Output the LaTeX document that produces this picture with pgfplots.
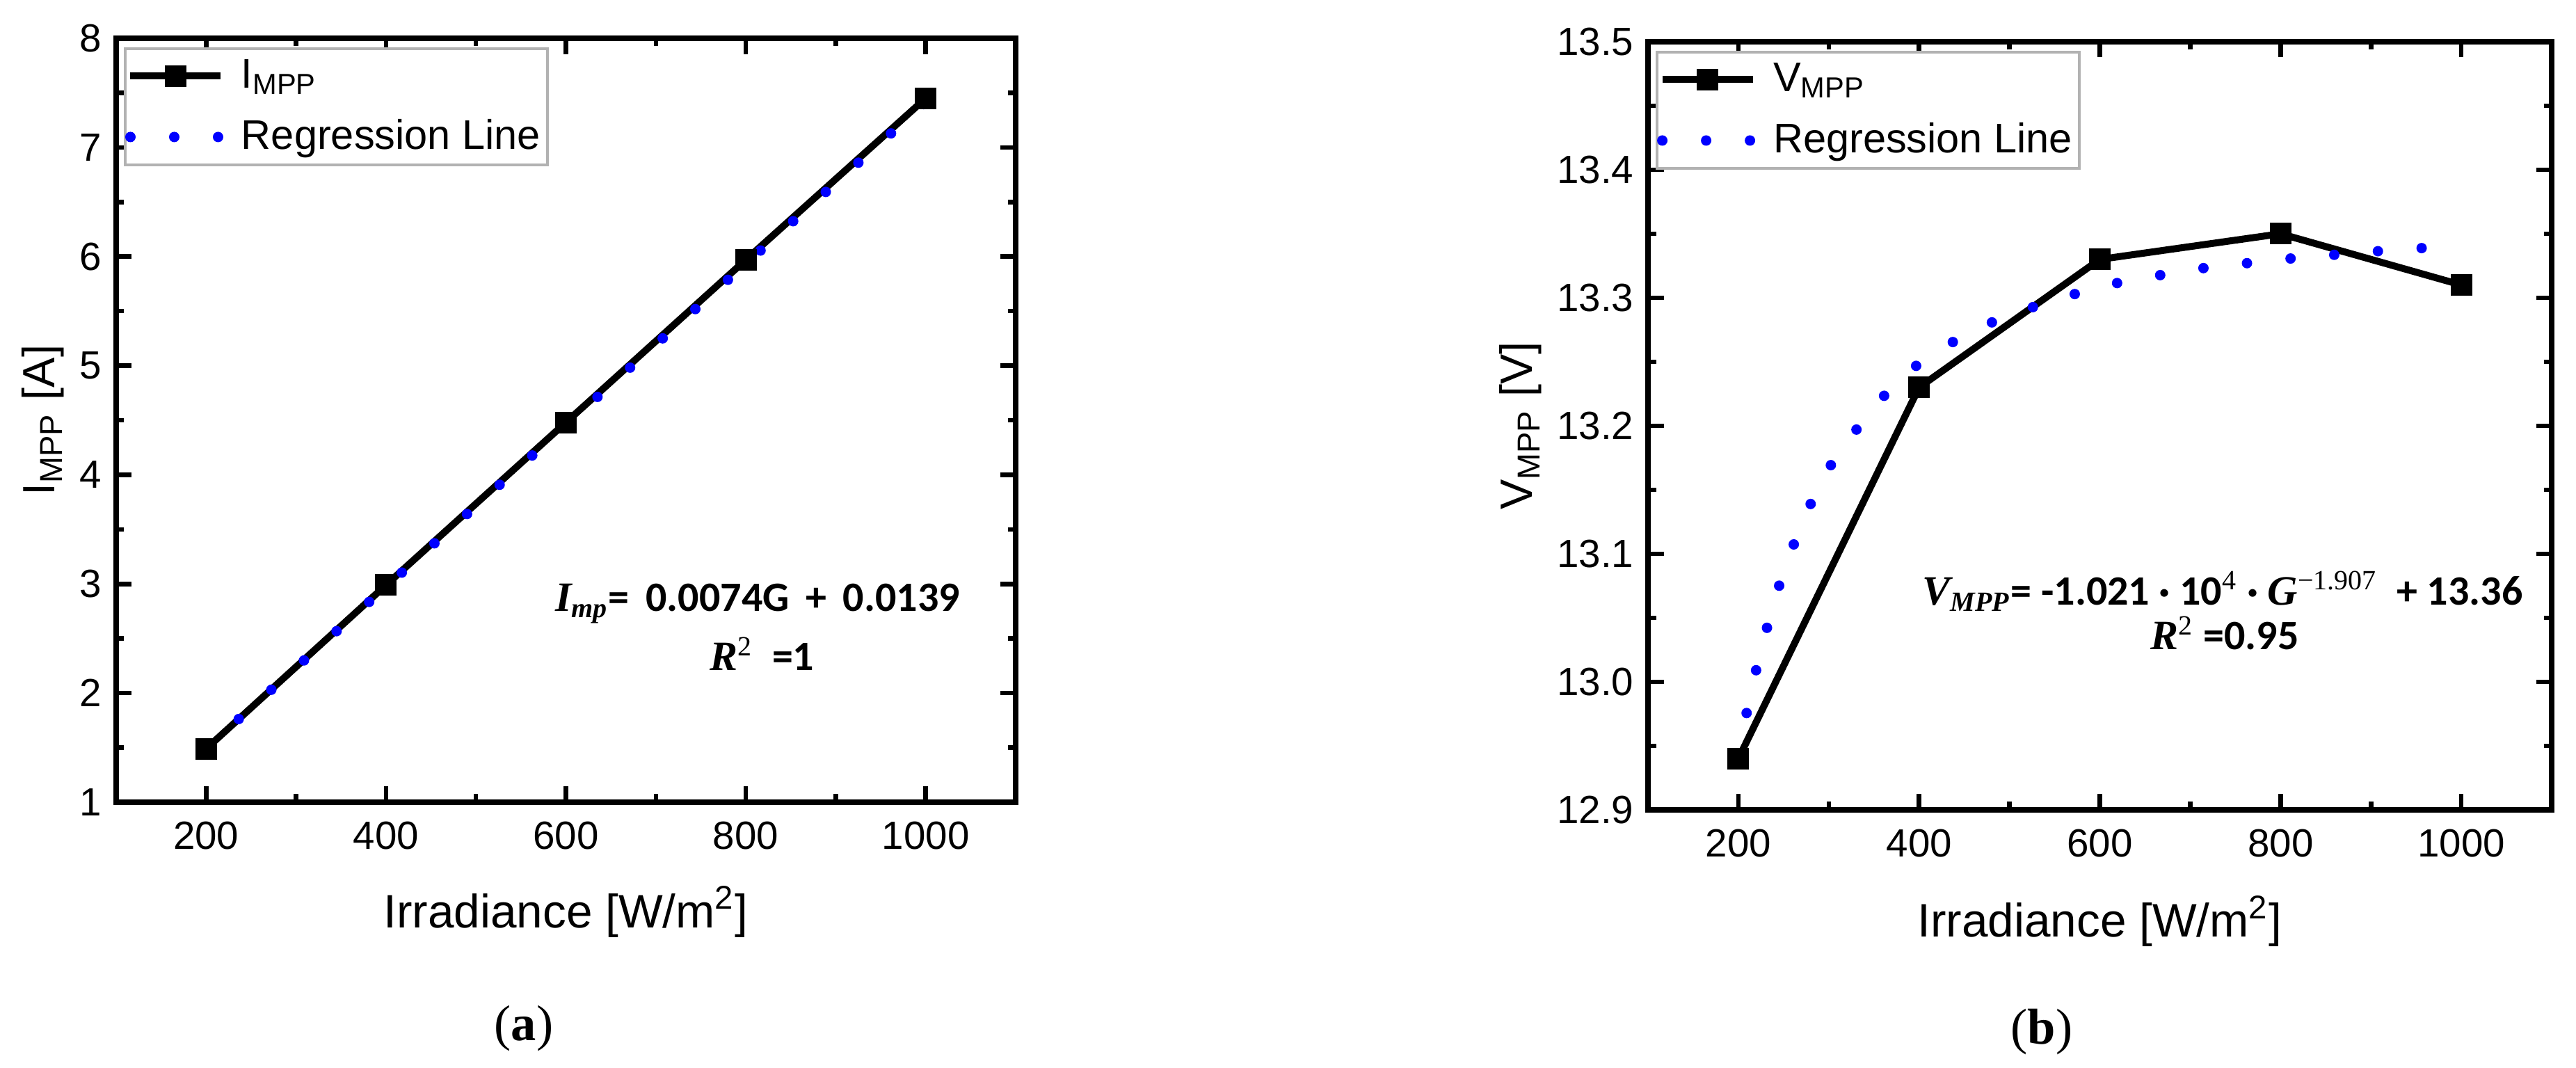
\documentclass[border=0pt]{standalone}
\usepackage{fontspec}
\setmainfont{Liberation Sans}
\newfontfamily\serif{Liberation Serif}
\newfontfamily\calibri{Carlito}
\usepackage{pgfplots}
\pgfplotsset{compat=1.18}
\definecolor{regblue}{RGB}{0,0,255}
\pgfplotsset{
  myax/.style={
    scale only axis,
    axis line style={line width=1.6pt},
    every tick/.style={black, line width=1.3pt},
    major tick length=4.5pt, minor tick length=2.3pt,
    tick align=inside,
    xmin=100, xmax=1100,
    xtick={200,400,600,800,1000},
    minor x tick num=1,
    minor y tick num=1,
    tick label style={font=\fontsize{11.3}{13}\selectfont},
    /pgf/number format/assume math mode=true,
    xticklabel style={yshift=-2pt, /pgf/number format/1000 sep={}},
    yticklabel style={xshift=-0.6pt},
    xlabel style={font=\fontsize{13.5}{15}\selectfont},
    ylabel style={font=\fontsize{13}{15}\selectfont},
    xlabel={Irradiance [W/m\textsuperscript{2}]},
    legend cell align=left,
    legend image code/.code={\draw[mark repeat=2,mark phase=2] plot coordinates {(1pt,0pt)(14pt,0pt)(27pt,0pt)};},
    legend style={anchor=north west, draw=gray!60, line width=0.8pt,
      font=\fontsize{11.9}{14}\selectfont, inner xsep=0pt, inner ysep=1pt,
      nodes={inner xsep=2pt, inner ysep=2pt},
      column sep=2.4pt, row sep=3.6pt},
    clip=false,
  },
  dataline/.style={black, line width=2pt, mark=square*, mark size=2.1pt, mark options={solid}},
  regline/.style={regblue, line width=3pt, line cap=round, dash pattern=on 0pt off 12.6pt},
}
\begin{document}
\begin{tikzpicture}[x=1pt,y=1pt]
\path[use as bounding box] (0,0) rectangle (740.6,307);

\begin{axis}[myax, at={(33.4pt,76.4pt)}, anchor=south west,
  width=258.6pt, height=219.6pt,
  ymin=1, ymax=8, ytick={1,2,3,4,5,6,7,8},
  ylabel={I\textsubscript{MPP} [A]},
  xlabel style={at={(axis description cs:0.5,-0.164)}, anchor=base},
  ylabel style={at={(axis description cs:-0.0812,0.5)}, anchor=center, rotate=0},
  legend style={at={(axis description cs:0.0085,0.988)}},
]
\addplot[dataline] coordinates {(200,1.49) (400,2.99) (600,4.48) (800,5.97) (1000,7.45)};
\addlegendentry{I\textsubscript{MPP}}
\addplot[regline] coordinates {(200,1.494) (400,2.974) (600,4.454) (800,5.934) (1000,7.414)};
\addlegendentry{Regression Line}
\node[font=\fontsize{12}{14}\selectfont] at (axis cs:813,2.82)
  {{\serif\bfseries\itshape I\textsubscript{mp}}{\calibri\bfseries = \,0.0074G \,+\, 0.0139}};
\node[font=\fontsize{12}{14}\selectfont] at (axis cs:818,2.36)
  {{\serif\bfseries\itshape R}\textsuperscript{\serif 2}{\calibri\bfseries\ \ =1}};
\end{axis}

\begin{axis}[myax, at={(473.8pt,74.2pt)}, anchor=south west,
  width=259.8pt, height=220.8pt,
  ymin=12.9, ymax=13.5, ytick={12.9,13,13.1,13.2,13.3,13.4,13.5},
  yticklabel style={/pgf/number format/.cd, fixed, fixed zerofill, precision=1},
  ylabel={V\textsubscript{MPP} [V]},
  xlabel style={at={(axis description cs:0.5,-0.165)}, anchor=base},
  ylabel style={at={(axis description cs:-0.141,0.5)}, anchor=center, rotate=0},
  legend style={at={(axis description cs:0.0085,0.988)}},
]
\addplot[dataline] coordinates {(200,12.94) (400,13.23) (600,13.33) (800,13.35) (1000,13.31)};
\addlegendentry{V\textsubscript{MPP}}
\addplot[regline] coordinates {(200,12.942) (210,12.979) (225,13.026) (250,13.087) (275,13.132) (300,13.167) (350,13.216) (400,13.249) (450,13.271) (500,13.287) (600,13.309) (700,13.322) (800,13.330) (900,13.336) (1000,13.341)};
\addlegendentry{Regression Line}
\node[font=\fontsize{12}{14}\selectfont] at (axis cs:736,13.071)
  {{\serif\bfseries\itshape V\textsubscript{MPP}}{\calibri\bfseries = -1.021 · 10}\textsuperscript{\serif 4}{\calibri\bfseries\ · }{\serif\bfseries\itshape G}\textsuperscript{\serif −1.907}{\calibri\bfseries\ \ + 13.36}};
\node[font=\fontsize{12}{14}\selectfont] at (axis cs:738,13.038)
  {{\serif\bfseries\itshape R}\textsuperscript{\serif 2}{\calibri\bfseries\ =0.95}};
\end{axis}

\node[font=\serif\fontsize{14.5}{16}\selectfont] at (150.6,11.4) {(\textbf{a})};
\node[font=\serif\fontsize{14.5}{16}\selectfont] at (587,10.4) {(\textbf{b})};
\end{tikzpicture}
\end{document}
